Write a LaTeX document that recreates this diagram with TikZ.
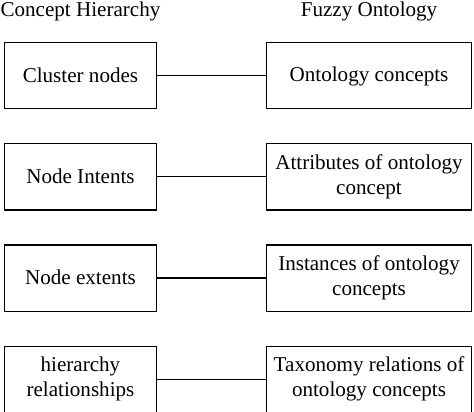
\documentclass[tikz,border=0pt]{standalone}
\usepackage{fontspec}
\setmainfont{Liberation Serif}
\newcommand\boxstrut{\rule[-2pt]{0pt}{11.5pt}}
\begin{document}
\begin{tikzpicture}[x=1mm,y=1mm,txt/.style={font=\fontsize{12}{14}\selectfont}]
  \useasboundingbox (0,0) rectangle (94.8,-82.4);
  \node [matrix,nodes={draw,txt,line width=0.6pt,minimum height=13.2mm,inner sep=2pt,align=center,
                       execute at begin node=\boxstrut,execute at end node=\boxstrut},
         column 1/.style={nodes={minimum width=30.4mm}},column 2/.style={nodes={minimum width=41mm}},
         column sep=21.8mm,row sep=6.8mm] (matrix) at (47.6,-45.5) {
    \node (cluster) {Cluster nodes}; & \node (concepts) {Ontology concepts}; \\
    \node (intents) {Node Intents}; & \node (attributes) {Attributes of ontology\\concept}; \\
    \node (extents) {Node extents}; & \node (instances) {Instances of ontology\\concepts}; \\
    \node (hierarchy) {hierarchy\\relationships}; & \node (taxonomy) {Taxonomy relations of\\ontology concepts}; \\
  };
  \begin{scope}[line width=0.6pt]
    \draw (cluster) -- (concepts);
    \draw (intents) -- (attributes);
    \draw (extents) -- (instances);
    \draw (hierarchy) -- (taxonomy);
  \end{scope}
  \begin{scope}[every node/.style={txt,anchor=base,inner sep=0pt}]
    \path (cluster.north) ++(0,5.2) node {Concept Hierarchy};
    \path (concepts.north) ++(0,5.2) node {Fuzzy Ontology};
  \end{scope}
\end{tikzpicture}
\end{document}
